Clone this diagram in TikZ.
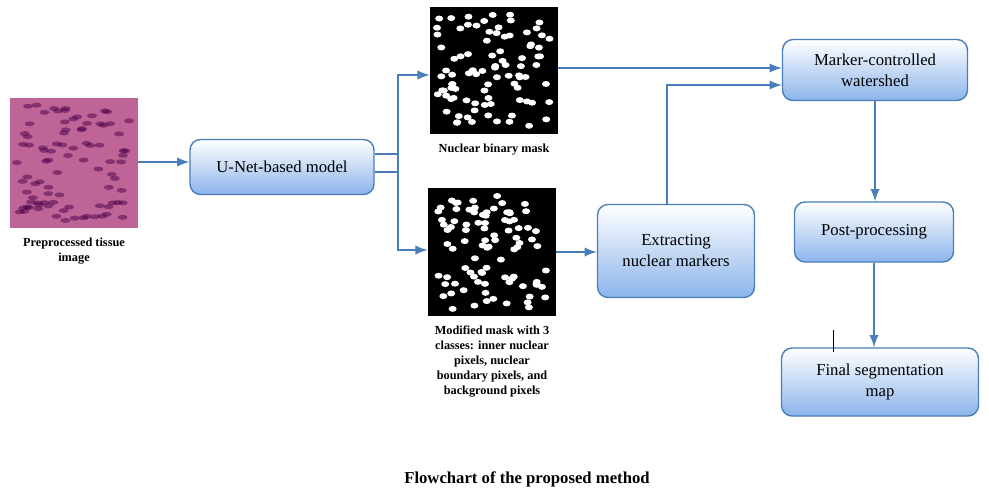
\documentclass[tikz,border=0pt]{standalone}
\usepackage{fontspec}
\setmainfont{Liberation Serif}
\usetikzlibrary{positioning}
\definecolor{boxline}{RGB}{74,126,187}
\definecolor{boxbot}{RGB}{140,180,235}
\definecolor{tissue}{RGB}{190,100,150}
\tikzset{
  stage/.style={draw=boxline, rounded corners=6pt, thick, top color=white, bottom color=boxbot,
     align=center, font=\fontsize{9.5}{12}\selectfont},
  link/.style={->, >=latex, draw=boxline, line width=1.4pt},
  lbl/.style={align=center, font=\bfseries\fontsize{7}{8.5}\selectfont}
}
\begin{document}
\begin{tikzpicture}[x=0.02cm, y=-0.02cm]
\useasboundingbox (0,0) rectangle (989,498);
% images
\node[fill=tissue, minimum width=128*0.02cm, minimum height=130*0.02cm, inner sep=0] (tis) at (74,163) {};
\node[fill=black, minimum width=128*0.02cm, minimum height=127*0.02cm, inner sep=0] (bin) at (494,70) {};
\node[fill=black, minimum width=128*0.02cm, minimum height=128*0.02cm, inner sep=0] (mod) at (492,252) {};
\pgfmathsetseed{7}
\foreach \i in {1,...,90}{
  \pgfmathsetmacro\px{437+114*rnd}\pgfmathsetmacro\py{13+113*rnd}
  \fill[white] (\px,\py) ellipse (4 and 3);
  \pgfmathsetmacro\qx{435+114*rnd}\pgfmathsetmacro\qy{195+114*rnd}
  \fill[white] (\qx,\qy) ellipse (4 and 3);
  \pgfmathsetmacro\tx{16+116*rnd}\pgfmathsetmacro\ty{104+118*rnd}
  \fill[violet!60!black, opacity=0.5] (\tx,\ty) ellipse (5 and 2.5);
}
\node[lbl, below=2pt of tis] (tisl) {Preprocessed tissue\\image};
\node[lbl, below=2pt of bin] (binl) {Nuclear binary mask};
\node[lbl, below=2pt of mod] (modl) {Modified mask with 3\\classes: inner nuclear\\pixels, nuclear\\boundary pixels, and\\background pixels};
% boxes
\node[stage, minimum width=184*0.02cm, minimum height=55*0.02cm] (unet) at (282,167) {U-Net-based model};
\node[stage, minimum width=157*0.02cm, minimum height=93*0.02cm] (ext) at (676,251) {Extracting\\nuclear markers};
\node[stage, minimum width=185*0.02cm, minimum height=61*0.02cm] (ws) at (875,70) {Marker-controlled\\watershed};
\node[stage, minimum width=159*0.02cm, minimum height=60*0.02cm] (post) at (874,232) {Post-processing};
\node[stage, minimum width=197*0.02cm, minimum height=68*0.02cm] (fin) at (880,382) {Final segmentation\\map};
% arrows
\draw[link] (tis.east |- 0,162) -- (unet.west |- 0,162);
\draw[link] ([yshift=-5*0.02cm]unet.east) -| (398,75) -- (bin.west |- 0,75);
\draw[link] ([yshift=13*0.02cm]unet.east) -| (398,250) -- (mod.west |- 0,250);
\draw[link] (mod.east) -- (ext.west |- mod.east);
\draw[link] (bin.east |- 0,68) -- (ws.west |- 0,68);
\draw[link] (ext.north -| 667,0) |- (ws.west |- 0,85);
\draw[link] (ws.south) -- (post.north -| ws.south);
\draw[link] (post.south) -- (fin.north -| post.south);
\coordinate (cur) at (833,330);
\draw (cur) -- ++(0,22);
\node[font=\bfseries\fontsize{9.5}{12}\selectfont] (cap) at (527,479) {Flowchart of the proposed method};
\end{tikzpicture}
\end{document}
